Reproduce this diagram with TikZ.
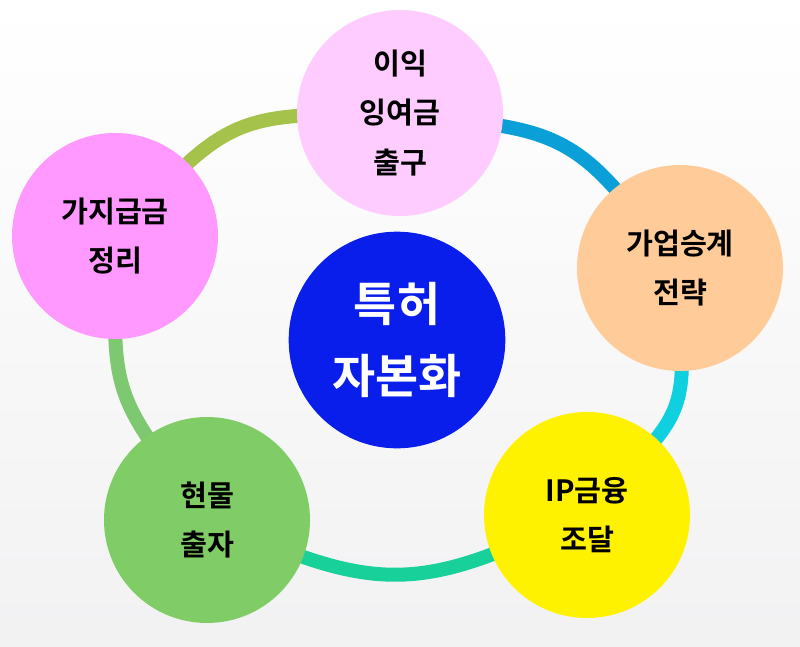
\documentclass[tikz,border=0pt]{standalone}
\usepackage{fontspec}
\newfontfamily\kr{Noto Sans CJK KR Bold}
\begin{document}
\begin{tikzpicture}[x=0.03cm,y=-0.03cm,
  bub/.style={circle,minimum size=6.18cm,inner sep=0pt,align=center,font=\kr\fontsize{25}{42}\selectfont},
  seg/.style={line width=0.42cm,shorten <=-20pt,shorten >=-20pt}]
\useasboundingbox (0,0) rectangle (800,647);
\fill[top color=white,bottom color=blue!5!gray!10] (0,0) rectangle (800,647);
\node[bub] (t) at (400,113) {};
\node[bub] (r) at (680,268) {};
\node[bub] (br) at (587,515) {};
\node[bub] (bl) at (207,520) {};
\node[bub] (l) at (115,236) {};
\draw[seg,color={rgb,255:red,10;green,160;blue,215}] (t) to[bend left=22] (r);
\draw[seg,color={rgb,255:red,16;green,208;blue,224}] (r) to[bend left=22] (br);
\draw[seg,color={rgb,255:red,24;green,208;blue,154}] (br) to[bend left=22] (bl);
\draw[seg,color={rgb,255:red,125;green,200;blue,112}] (bl) to[bend left=18] (l);
\draw[seg,color={rgb,255:red,165;green,194;blue,74}] (l) to[bend left=22] (t);
\node[bub,fill={rgb,255:red,255;green,204;blue,255}] at (t) {이익\\잉여금\\출구};
\node[bub,fill={rgb,255:red,255;green,204;blue,153}] at (r) {가업승계\\전략};
\node[bub,fill=yellow] at (br) {IP금융\\조달};
\node[bub,fill={rgb,255:red,128;green,204;blue,102}] at (bl) {현물\\출자};
\node[bub,fill={rgb,255:red,255;green,153;blue,255}] at (l) {가지급금\\정리};
\node[circle,minimum size=6.5cm,inner sep=0pt,align=center,text=white,fill={rgb,255:red,10;green,30;blue,235},font=\kr\fontsize{40}{62}\selectfont] (c) at (397,340) {특허\\자본화};
\end{tikzpicture}
\end{document}
